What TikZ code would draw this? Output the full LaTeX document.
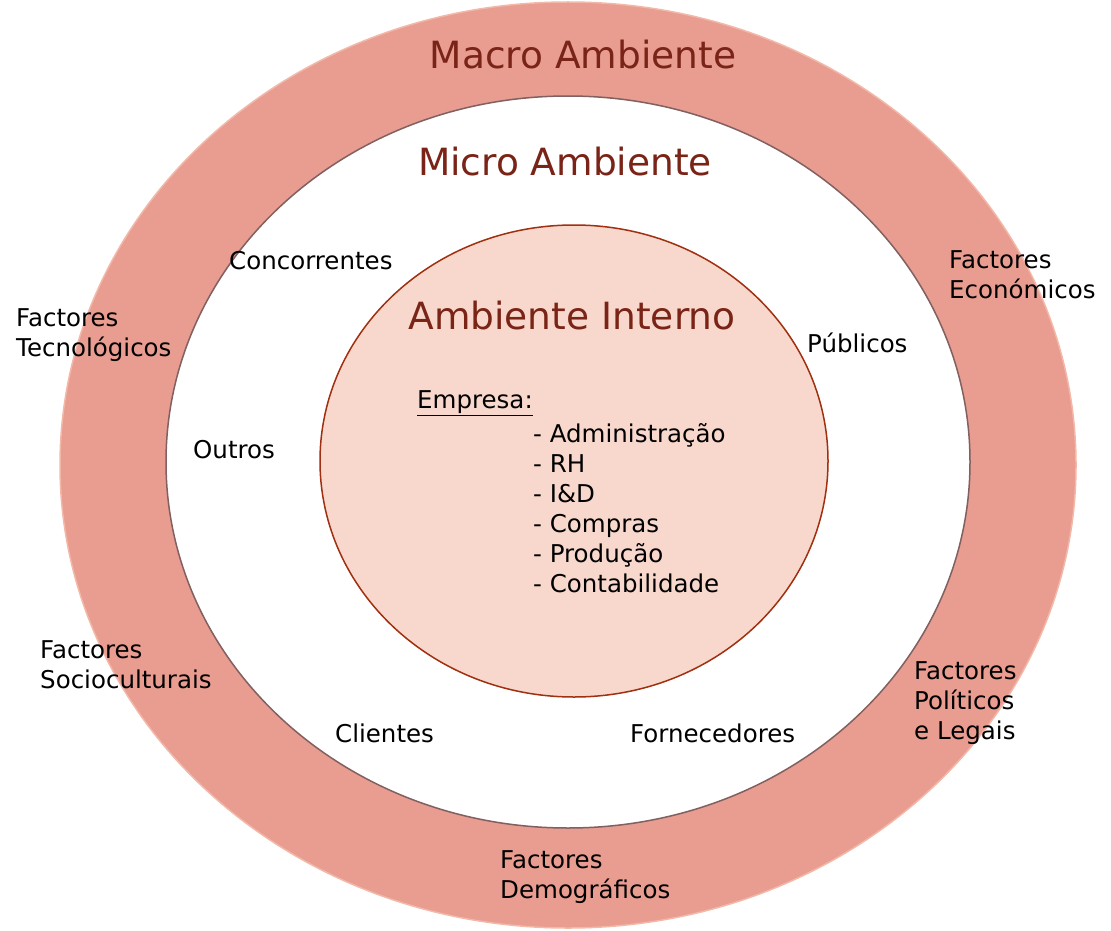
\documentclass[tikz,border=0pt]{standalone}
\usepackage{fontspec}
\setmainfont{DejaVu Sans}
\definecolor{macro}{HTML}{E99C90}
\definecolor{macroline}{HTML}{F2B8A8}
\definecolor{microline}{HTML}{806060}
\definecolor{inner}{HTML}{F8D8CC}
\definecolor{innerline}{HTML}{A03010}
\definecolor{title}{HTML}{7A2418}
\begin{document}
\begin{tikzpicture}[x=1pt,y=-1pt,
  lab/.style={anchor=west,align=left,inner sep=0pt,font=\fontsize{24.5}{30}\selectfont},
  ttl/.style={text=title,inner sep=0pt,font=\fontsize{37.5}{40}\selectfont}]
\useasboundingbox (0,0) rectangle (1111,931);
\fill[macro,draw=macroline,line width=1.5pt] (568,465) ellipse [x radius=508,y radius=463];
\draw[fill=white,draw=microline,line width=1.5pt] (568,462) ellipse [x radius=402,y radius=366];
\draw[fill=inner,draw=innerline,line width=1.5pt] (574,461) ellipse [x radius=254,y radius=236];
\node[ttl] (macro) at (583,55) {Macro Ambiente};
\node[ttl] (micro) at (565,162) {Micro Ambiente};
\node[ttl] (int) at (572,316) {Ambiente Interno};
\node[lab] (conc) at (229,261) {Concorrentes};
\node[lab] (pub) at (807,343) {Públicos};
\node[lab] (out) at (193,450) {Outros};
\node[lab] (cli) at (335,733) {Clientes};
\node[lab] (forn) at (630,733) {Fornecedores};
\node[lab] (tec) at (16,335) {Factores\\Tecnológicos};
\node[lab] (eco) at (949,275) {Factores\\Económicos};
\node[lab] (soc) at (40,665) {Factores\\Socioculturais};
\node[lab] (pol) at (914,703) {Factores\\Políticos\\e Legais};
\node[lab] (dem) at (500,877) {Factores\\Demográficos};
\node[lab] (emp) at (417,403) {\underline{Empresa:}};
\node[lab] (list) at (533,508) {- Administração\\- RH\\- I\&D\\- Compras\\- Produção\\- Contabilidade};
\end{tikzpicture}
\end{document}
